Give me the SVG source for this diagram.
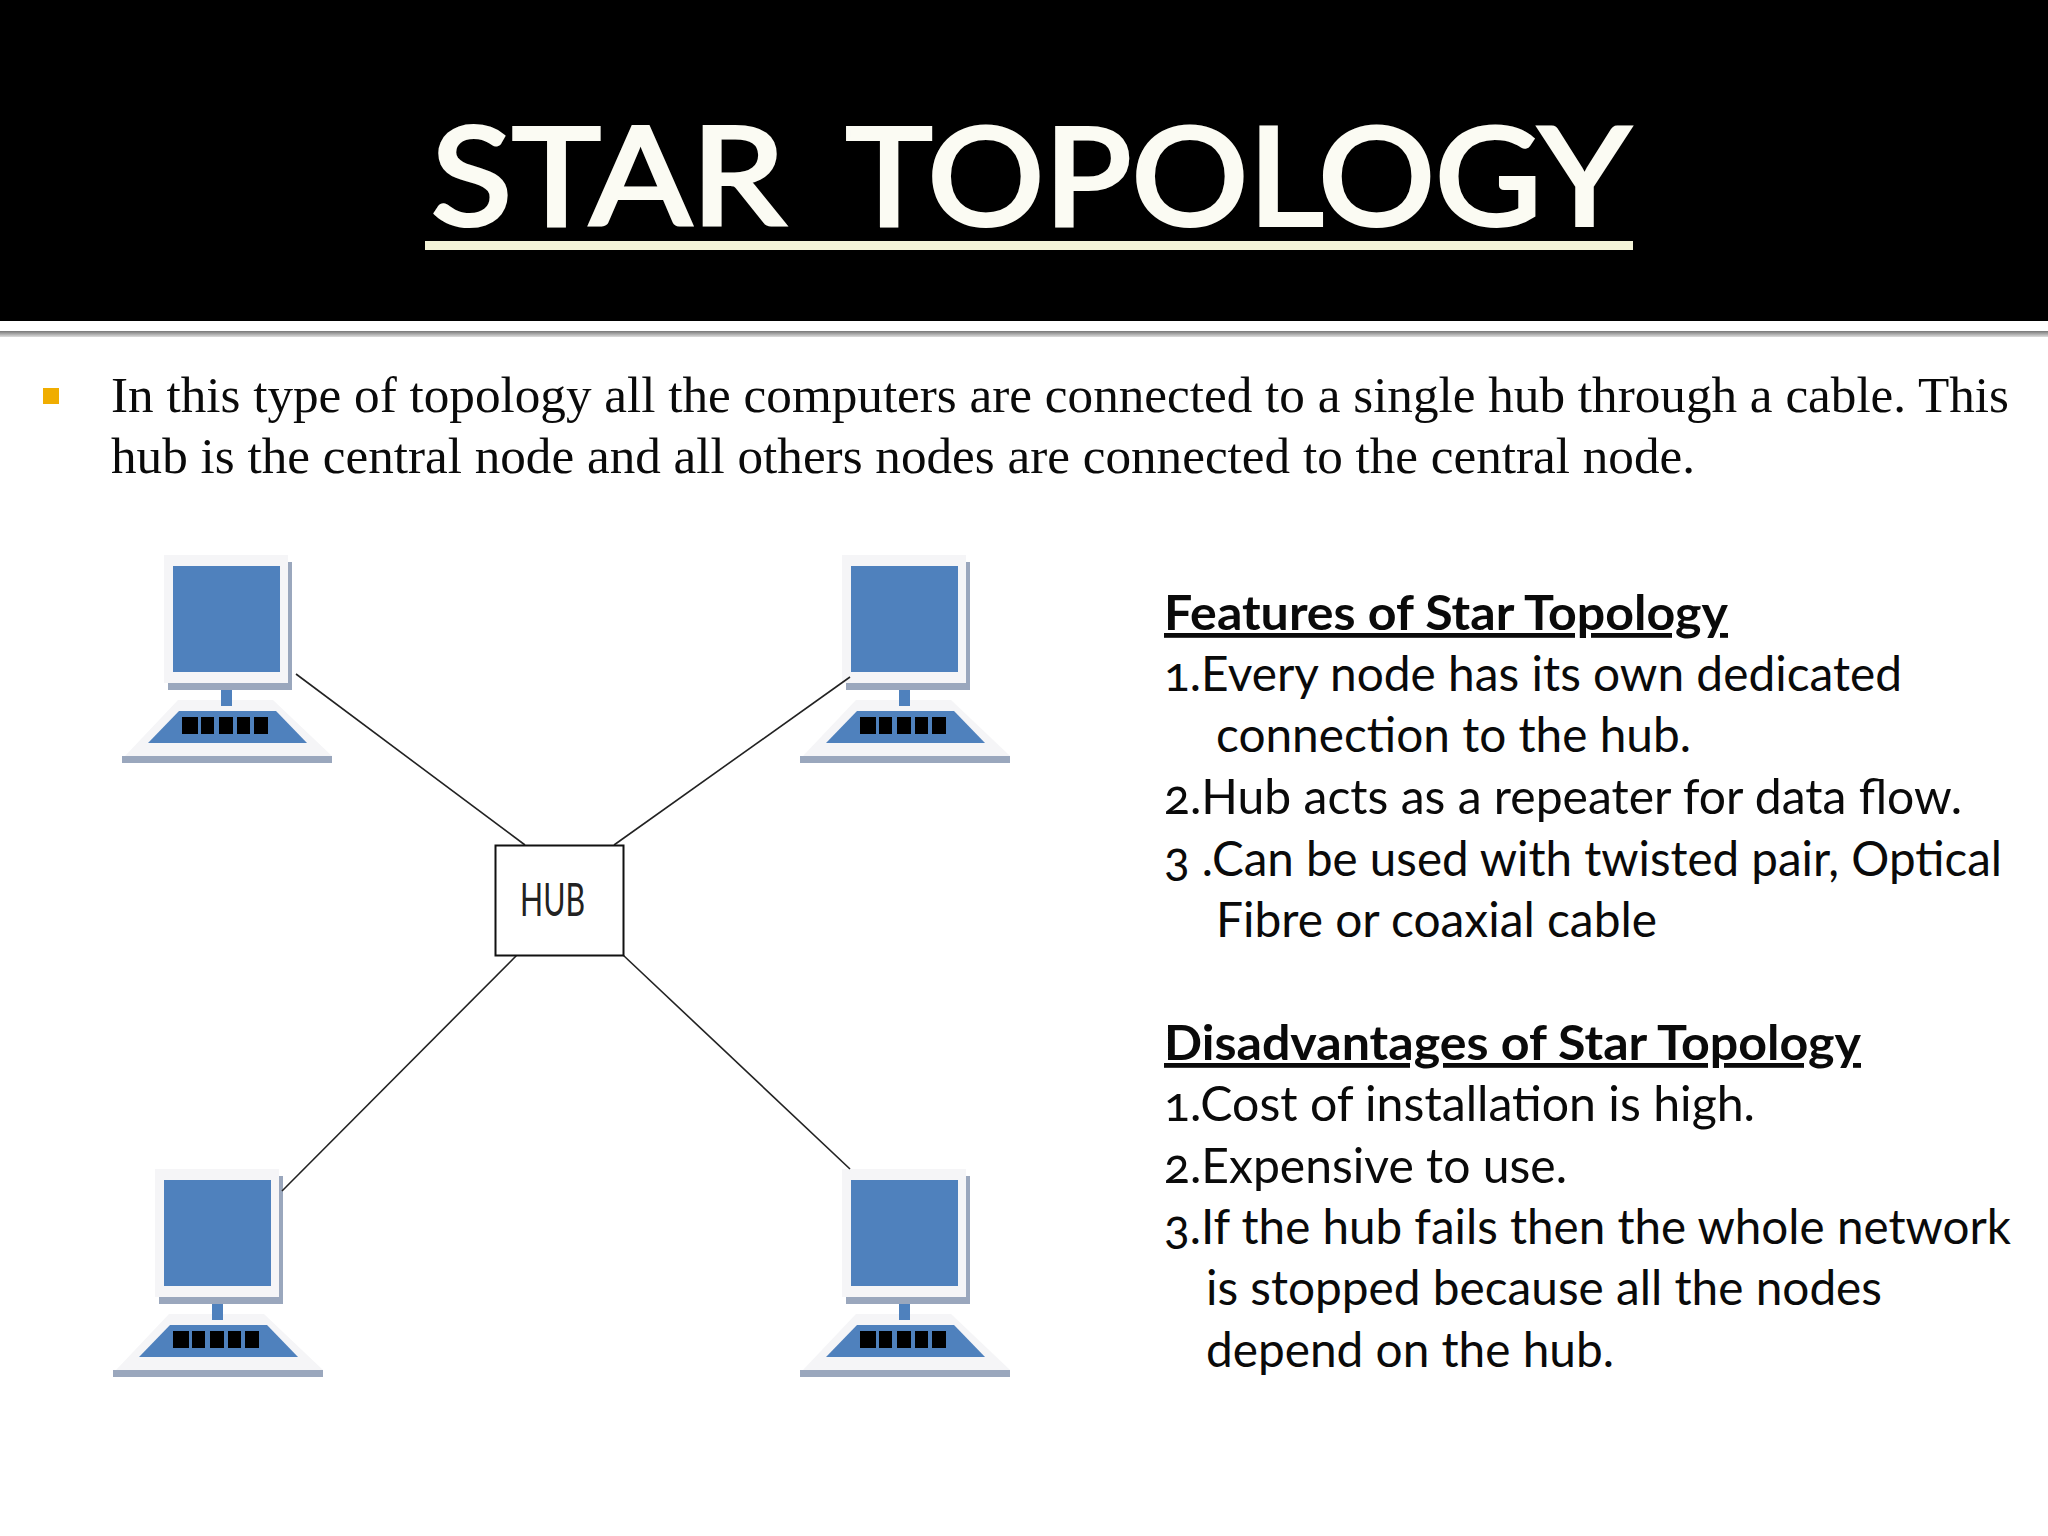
<svg xmlns="http://www.w3.org/2000/svg" width="2048" height="1536" viewBox="0 0 2048 1536">
<style>
.body{font-family:"Liberation Serif","Times New Roman",serif;font-size:51px;fill:#0a0a0a}
.r{font-family:Lato,"Open Sans",sans-serif;font-size:48px;fill:#0a0a0a;font-variant-numeric:oldstyle-nums}
.h{font-weight:700;text-decoration:underline}
.t{font-family:Lato,"Open Sans",sans-serif;font-size:136px;fill:#fbfbf3;stroke:#fbfbf3;stroke-width:4px}
.conn{stroke:#222;stroke-width:1.6;fill:none}
</style>
<defs>
<linearGradient id="rule" x1="0" y1="0" x2="0" y2="1"><stop offset="0" stop-color="#777"/><stop offset="1" stop-color="#ddd"/></linearGradient>
<g id="pc">
<rect x="4" y="7" width="124" height="128" fill="#9aa7bd"/>
<rect x="0" y="0" width="124" height="128" fill="#f5f5f7"/>
<rect x="9" y="11" width="107" height="106" fill="#4f81bd"/>
<polygon points="14,145 109,145 168,201 -39,201" fill="#f5f5f7"/>
<rect x="57" y="135" width="11" height="16" fill="#4f81bd"/>
<polygon points="-42,201 168,201 168,208 -42,208" fill="#9aa7bd"/>
<polygon points="15,156 112,156 143,188 -16,188" fill="#4f81bd"/>
<rect x="18" y="162" width="16" height="17" fill="#000"/>
<rect x="37" y="162" width="13" height="17" fill="#000"/>
<rect x="55" y="162" width="14" height="17" fill="#000"/>
<rect x="73" y="162" width="13" height="17" fill="#000"/>
<rect x="90" y="162" width="14" height="17" fill="#000"/>
</g>
</defs>
<rect width="2048" height="1536" fill="#fff"/>
<g id="header">
<rect width="2048" height="321" fill="#000"/>
<rect y="331" width="2048" height="6" fill="url(#rule)"/>
<text class="t" x="431" y="225" textLength="354" lengthAdjust="spacingAndGlyphs">STAR</text>
<text class="t" x="846" y="225" textLength="784" lengthAdjust="spacingAndGlyphs">TOPOLOGY</text>
<rect x="425" y="241" width="1208" height="9" fill="#f4f4d8"/>
</g>
<g id="intro">
<rect x="43" y="388" width="16" height="16" fill="#f0ad00"/>
<text class="body" x="111" y="412" textLength="1898" lengthAdjust="spacingAndGlyphs">In this type of topology all the computers are connected to a single hub through a cable. This</text>
<text class="body" x="111" y="473" textLength="1584" lengthAdjust="spacingAndGlyphs">hub is the central node and all others nodes are connected to the central node.</text>
</g>
<g id="computer-top-left"><use href="#pc" x="164" y="555"/></g>
<g id="computer-top-right"><use href="#pc" x="842" y="555"/></g>
<g id="computer-bottom-left"><use href="#pc" x="155" y="1169"/></g>
<g id="computer-bottom-right"><use href="#pc" x="842" y="1169"/></g>
<g id="connectors">
<line class="conn" x1="296" y1="674" x2="525" y2="845"/>
<line class="conn" x1="850" y1="677" x2="614" y2="845"/>
<line class="conn" x1="517" y1="955" x2="282" y2="1191"/>
<line class="conn" x1="623" y1="955" x2="850" y2="1169"/>
</g>
<g id="hub">
<rect x="495.500" y="845.500" width="128" height="110" fill="#fff" stroke="#111" stroke-width="2"/>
<text x="520" y="916" font-family="Lato,'Open Sans',sans-serif" font-size="47" fill="#222" textLength="65" lengthAdjust="spacingAndGlyphs">HUB</text>
</g>
<g id="features">
<text class="r h" x="1164" y="630" textLength="564" lengthAdjust="spacingAndGlyphs">Features of Star Topology</text>
<text class="r" x="1164" y="691" textLength="738" lengthAdjust="spacingAndGlyphs">1.Every node has its own dedicated</text>
<text class="r" x="1216" y="752" textLength="475" lengthAdjust="spacingAndGlyphs">connection to the hub.</text>
<text class="r" x="1164" y="814" textLength="798" lengthAdjust="spacingAndGlyphs">2.Hub acts as a repeater for data flow.</text>
<text class="r" x="1164" y="876" textLength="838" lengthAdjust="spacingAndGlyphs">3 .Can be used with twisted pair, Optical</text>
<text class="r" x="1216" y="937" textLength="441" lengthAdjust="spacingAndGlyphs">Fibre or coaxial cable</text>
</g>
<g id="disadvantages">
<text class="r h" x="1164" y="1060" textLength="697" lengthAdjust="spacingAndGlyphs">Disadvantages of Star Topology</text>
<text class="r" x="1164" y="1121" textLength="591" lengthAdjust="spacingAndGlyphs">1.Cost of installation is high.</text>
<text class="r" x="1164" y="1183" textLength="403" lengthAdjust="spacingAndGlyphs">2.Expensive to use.</text>
<text class="r" x="1164" y="1244" textLength="847" lengthAdjust="spacingAndGlyphs">3.If the hub fails then the whole network</text>
<text class="r" x="1206" y="1305" textLength="676" lengthAdjust="spacingAndGlyphs">is stopped because all the nodes</text>
<text class="r" x="1206" y="1367" textLength="408" lengthAdjust="spacingAndGlyphs">depend on the hub.</text>
</g>
</svg>
